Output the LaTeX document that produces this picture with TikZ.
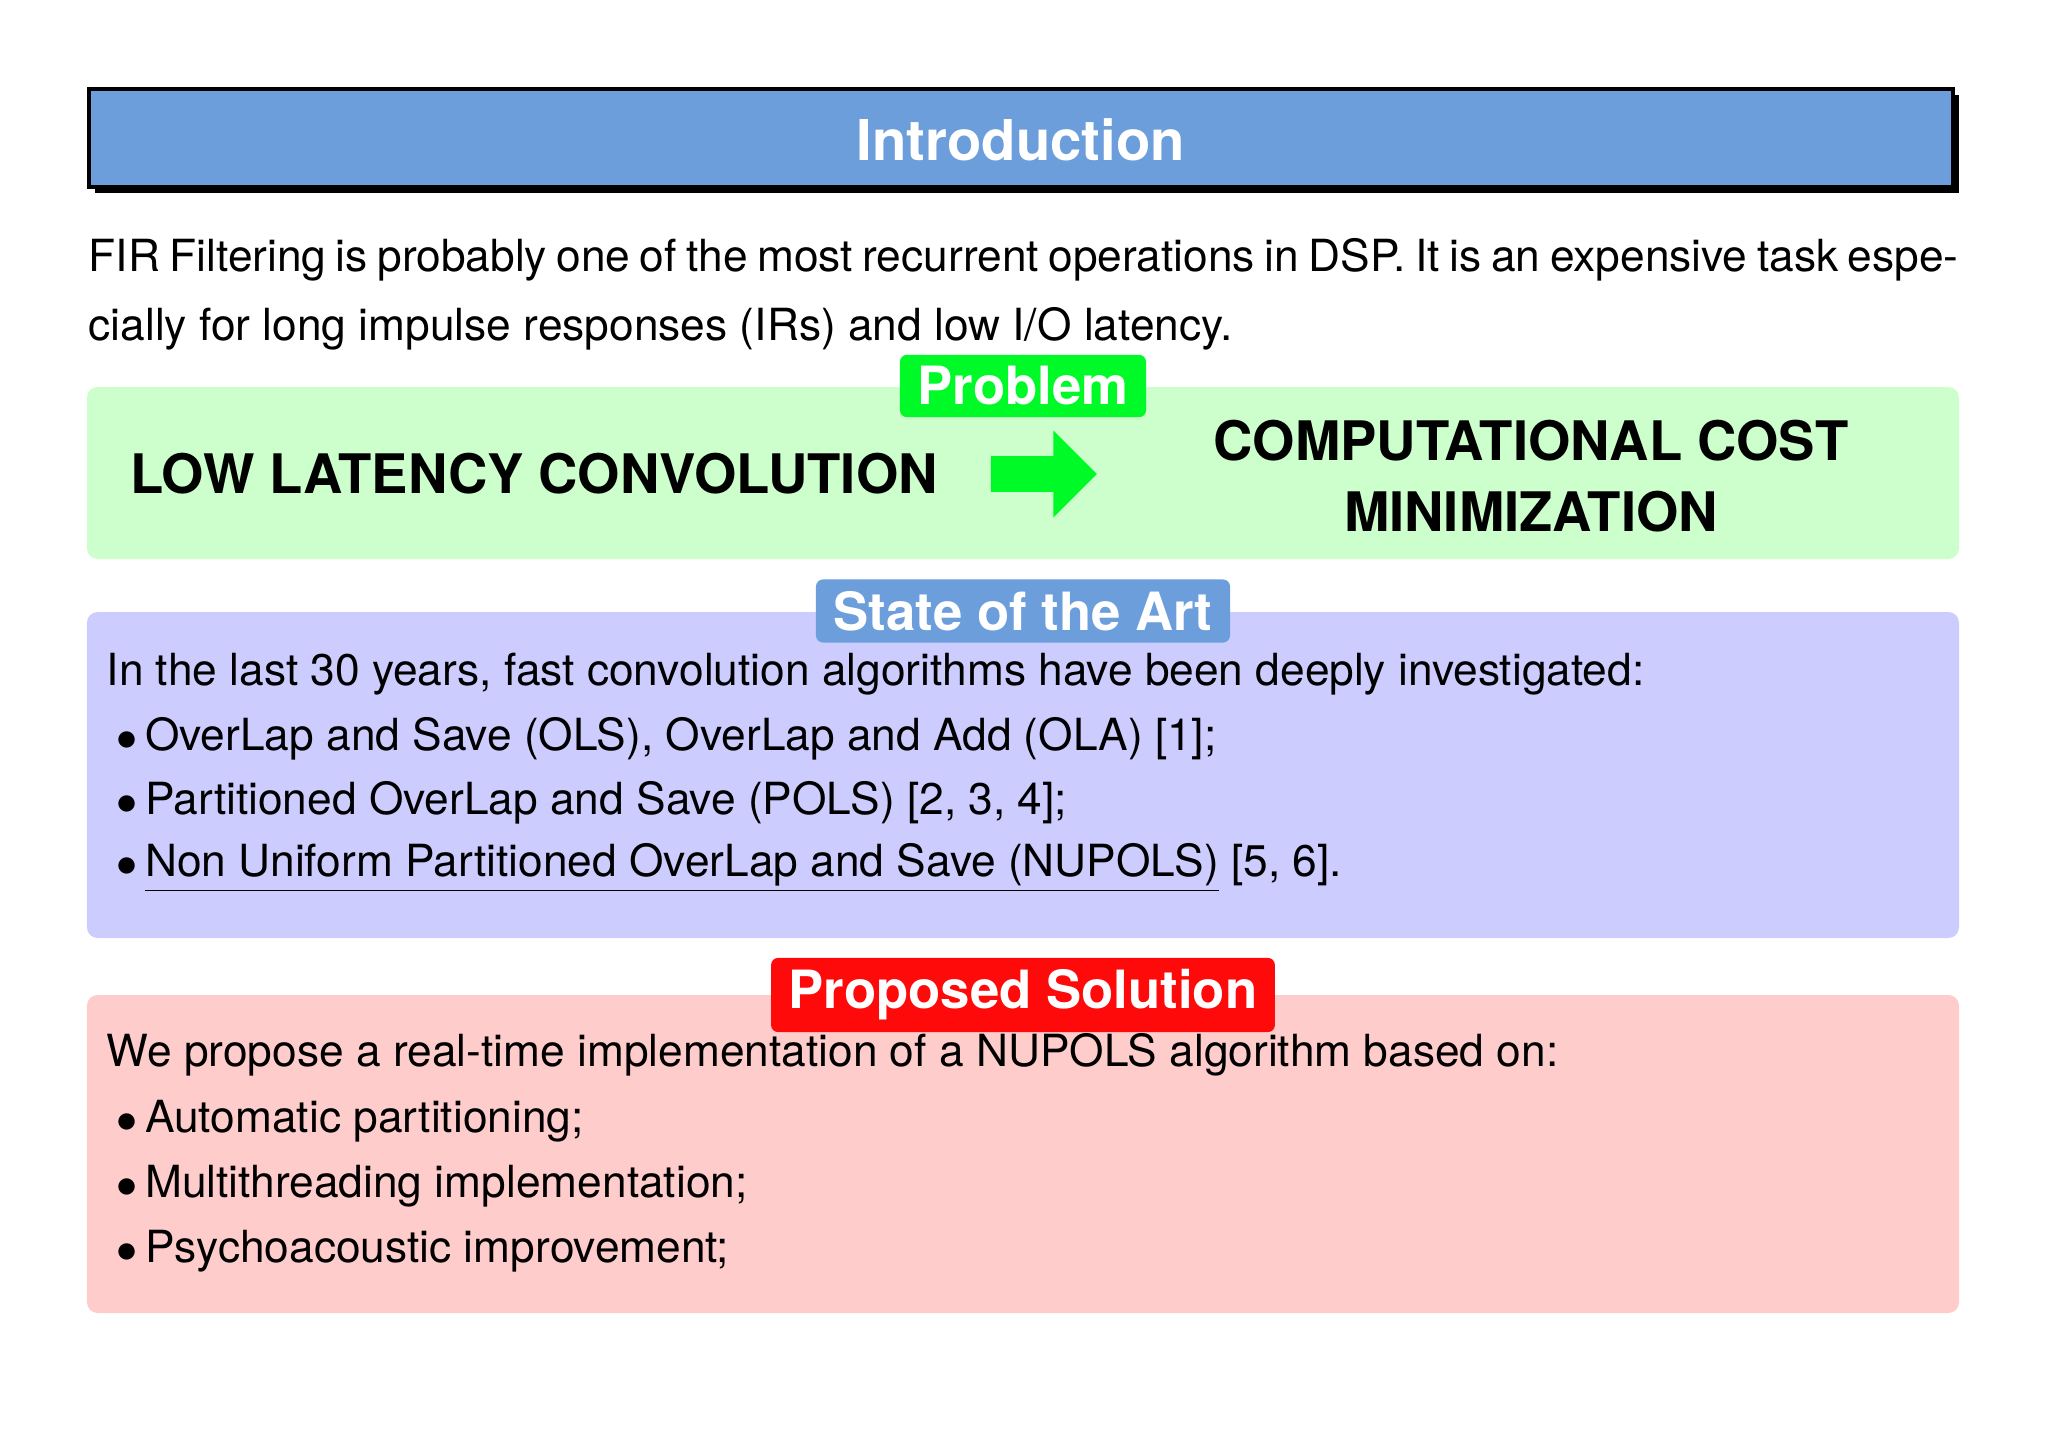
\documentclass[tikz,border=0pt]{standalone}
\usepackage{fontspec}
\setmainfont{TeX Gyre Heros}
\usetikzlibrary{positioning, shapes.arrows}
\definecolor{headblue}{RGB}{108,158,220}
\definecolor{probgreen}{RGB}{204,255,204}
\definecolor{tagred}{RGB}{255,10,10}
\definecolor{tagreen}{RGB}{0,250,40}
\definecolor{artblue}{RGB}{204,204,255}
\definecolor{solred}{RGB}{255,204,204}
\tikzset{
  panel/.style={draw=none, rounded corners=3pt, inner sep=0pt},
  tagbox/.style={rounded corners=2pt, text=white, font=\fontsize{15}{18}\selectfont\bfseries, minimum height=0.58cm, inner xsep=5pt},
  bigtxt/.style={font=\fontsize{15.5}{20}\selectfont\bfseries, align=center},
  bodytxt/.style={font=\fontsize{12.6}{15}\selectfont, anchor=west, inner sep=0pt},
}
\begin{document}
\begin{tikzpicture}
  \useasboundingbox (0,0) rectangle (20.48,-14.49);
  % Introduction header
  \fill[black] (0.95,-0.95) rectangle (19.59,-1.93);
  \draw[line width=1.2pt, fill=headblue] (0.89,-0.89) rectangle (19.53,-1.87);
  \node[text=white, font=\fontsize{16}{20}\selectfont\bfseries] (intro) at (10.21,-1.40) {Introduction};
  \node[text width=18.7cm, align=justify, anchor=north west, inner sep=0pt,
        font=\fontsize{12.6}{19.5}\selectfont] (para) at (0.88,-2.38)
    {FIR Filtering is probably one of the most recurrent operations in DSP. It is an expensive task espe-\linebreak cially for long impulse responses (IRs) and low I/O latency.};

  % Problem
  \fill[panel, probgreen] (0.87,-3.87) rectangle (19.59,-5.59);
  \node[tagbox, fill=tagreen, minimum width=1.96cm] (prob) at (10.23,-3.86) {Problem};
  \node[bigtxt] (low) at (5.34,-4.74) {LOW LATENCY CONVOLUTION};
  \node[single arrow, fill=tagreen, minimum height=1.06cm, minimum width=0.87cm,
        single arrow head extend=0.01cm, inner sep=0pt, right=0.4cm of low.east] (arr) {};
  \node[bigtxt] (cost) at (15.31,-4.76) {COMPUTATIONAL COST\\MINIMIZATION};

  % State of the art
  \fill[panel, artblue] (0.87,-6.12) rectangle (19.59,-9.38);
  \node[tagbox, fill=headblue, minimum width=3.33cm] (art) at (10.23,-6.11) {State of the Art};
  \node[bodytxt] (a0) at (1.06,-6.74) {In the last 30 years, fast convolution algorithms have been deeply investigated:};
  \node[bodytxt] (a1) at (1.16,-7.39) {$\bullet$\,OverLap and Save (OLS), OverLap and Add (OLA) [1];};
  \node[bodytxt] (a2) at (1.16,-8.03) {$\bullet$\,Partitioned OverLap and Save (POLS) [2, 3, 4];};
  \node[bodytxt] (a3) at (1.16,-8.68) {$\bullet$\,\underline{Non Uniform Partitioned OverLap and Save (NUPOLS)} [5, 6].};

  % Proposed solution
  \fill[panel, solred] (0.87,-9.95) rectangle (19.59,-13.13);
  \node[tagbox, fill=tagred, minimum width=4.05cm, minimum height=0.68cm] (sol) at (10.23,-9.95) {Proposed Solution};
  \node[bodytxt] (s0) at (1.06,-10.55) {We propose a real-time implementation of a NUPOLS algorithm based on:};
  \node[bodytxt] (s1) at (1.16,-11.21) {$\bullet$\,Automatic partitioning;};
  \node[bodytxt] (s2) at (1.16,-11.86) {$\bullet$\,Multithreading implementation;};
  \node[bodytxt] (s3) at (1.16,-12.51) {$\bullet$\,Psychoacoustic improvement;};
\end{tikzpicture}
\end{document}
